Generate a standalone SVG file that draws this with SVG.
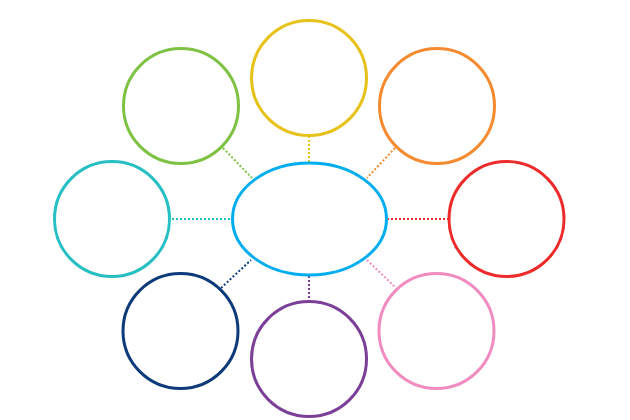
<svg xmlns="http://www.w3.org/2000/svg" width="630" height="420" viewBox="0 0 630 420">
<style>
.n{fill:#fff;stroke-width:3}
.c{fill:none;stroke-width:2;stroke-dasharray:2 2}
</style>
<rect width="630" height="420" fill="#fff"/>
<g id="connectors">
<line class="c" stroke="#e6c21a" x1="309" y1="136" x2="309" y2="162"/>
<line class="c" stroke="#7dc242" x1="223" y1="148" x2="252" y2="178"/>
<line class="c" stroke="#f58a2e" x1="395" y1="148" x2="367" y2="178"/>
<line class="c" stroke="#26bfc4" x1="168" y1="219" x2="232" y2="219"/>
<line class="c" stroke="#ee2a2a" x1="387" y1="219" x2="450" y2="219"/>
<line class="c" stroke="#0d3b7a" x1="221" y1="288" x2="251" y2="260"/>
<line class="c" stroke="#f08cc0" x1="367" y1="260" x2="396" y2="288"/>
<line class="c" stroke="#7b3f98" x1="309" y1="276" x2="309" y2="302"/>
</g>
<g id="center"><ellipse class="n" stroke="#00aeef" cx="309.5" cy="219" rx="77" ry="56"/></g>
<g id="yellow"><circle class="n" stroke="#e6c21a" cx="309" cy="78" r="57.5"/></g>
<g id="green"><circle class="n" stroke="#7dc242" cx="181" cy="106" r="57.5"/></g>
<g id="orange"><circle class="n" stroke="#f58a2e" cx="437" cy="106" r="57.5"/></g>
<g id="cyan"><circle class="n" stroke="#26bfc4" cx="112" cy="219" r="57.5"/></g>
<g id="red"><circle class="n" stroke="#ee2a2a" cx="506.5" cy="219" r="57.5"/></g>
<g id="darkblue"><circle class="n" stroke="#0d3b7a" cx="180.5" cy="331" r="57.5"/></g>
<g id="purple"><circle class="n" stroke="#7b3f98" cx="309" cy="359" r="57.5"/></g>
<g id="pink"><circle class="n" stroke="#f08cc0" cx="436.5" cy="331" r="57.5"/></g>
</svg>
